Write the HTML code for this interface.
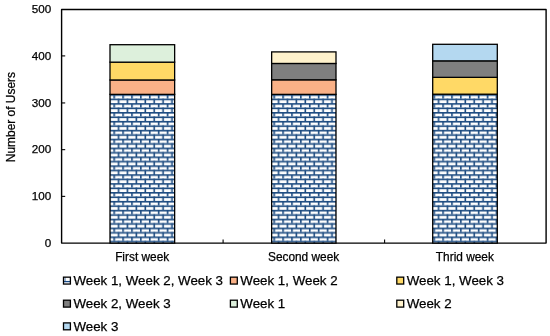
<!DOCTYPE html>
<html><head><meta charset="utf-8"><title>Number of Users</title>
<style>
html,body{margin:0;padding:0;background:#fff;}
svg{display:block;}
text{font-family:"Liberation Sans",Arial,sans-serif;fill:#000;stroke:#000;stroke-width:0.25px;}
.a{font-size:11.67px;}
.l{font-size:13.33px;}
.c{font-size:11.87px;}
.t{font-size:11.95px;}
</style></head><body>
<svg width="550" height="336" viewBox="0 0 550 336">
<defs>
<pattern id="brick" patternUnits="userSpaceOnUse" x="6.73" y="5.36" width="8.889" height="8.889">
<rect x="0" y="0" width="8.889" height="8.889" fill="#fff"/>
<rect x="0" y="0" width="8.889" height="1.6" fill="#1B4A80"/>
<rect x="0" y="4.4445" width="8.889" height="1.6" fill="#1B4A80"/>
<rect x="0" y="0" width="1.6" height="4.4445" fill="#1B4A80"/>
<rect x="4.4445" y="4.4445" width="1.6" height="4.4445" fill="#1B4A80"/>
</pattern>
</defs>
<rect x="0" y="0" width="550" height="336" fill="#fff"/>

<rect x="61.6" y="9.5" width="484.5" height="233.60" fill="#fff" stroke="#000" stroke-width="1.4" stroke-linejoin="round"/>
<line x1="61.6" y1="196.38" x2="65.2" y2="196.38" stroke="#000" stroke-width="1.1"/>
<line x1="61.6" y1="149.66" x2="65.2" y2="149.66" stroke="#000" stroke-width="1.1"/>
<line x1="61.6" y1="102.94" x2="65.2" y2="102.94" stroke="#000" stroke-width="1.1"/>
<line x1="61.6" y1="55.90" x2="65.2" y2="55.90" stroke="#000" stroke-width="1.1"/>
<line x1="223.10" y1="243.1" x2="223.10" y2="239.5" stroke="#000" stroke-width="1.1"/>
<line x1="384.60" y1="243.1" x2="384.60" y2="239.5" stroke="#000" stroke-width="1.1"/>
<rect x="110.0" y="94.37" width="64.65" height="148.73" fill="url(#brick)" stroke="#000" stroke-width="1.3"/>
<rect x="110.0" y="79.97" width="64.65" height="14.40" fill="#FAB187" stroke="#000" stroke-width="1.3"/>
<rect x="110.0" y="62.15" width="64.65" height="17.82" fill="#FFD966" stroke="#000" stroke-width="1.3"/>
<rect x="110.0" y="44.70" width="64.65" height="17.45" fill="#DDF0DC" stroke="#000" stroke-width="1.3"/>
<rect x="271.65" y="94.37" width="64.35" height="148.73" fill="url(#brick)" stroke="#000" stroke-width="1.3"/>
<rect x="271.65" y="79.80" width="64.35" height="14.57" fill="#FAB187" stroke="#000" stroke-width="1.3"/>
<rect x="271.65" y="63.46" width="64.35" height="16.34" fill="#7F7F7F" stroke="#000" stroke-width="1.3"/>
<rect x="271.65" y="51.90" width="64.35" height="11.56" fill="#FFF2CC" stroke="#000" stroke-width="1.3"/>
<rect x="432.7" y="94.20" width="64.60" height="148.90" fill="url(#brick)" stroke="#000" stroke-width="1.3"/>
<rect x="432.7" y="77.35" width="64.60" height="16.85" fill="#FFD966" stroke="#000" stroke-width="1.3"/>
<rect x="432.7" y="60.85" width="64.60" height="16.50" fill="#7F7F7F" stroke="#000" stroke-width="1.3"/>
<rect x="432.7" y="44.30" width="64.60" height="16.55" fill="#B4D8F0" stroke="#000" stroke-width="1.3"/>
<text class="a" x="51.3" y="247.00" text-anchor="end">0</text>
<text class="a" x="51.3" y="199.55" text-anchor="end">100</text>
<text class="a" x="51.3" y="153.20" text-anchor="end">200</text>
<text class="a" x="51.3" y="106.60" text-anchor="end">300</text>
<text class="a" x="51.3" y="59.60" text-anchor="end">400</text>
<text class="a" x="51.3" y="12.80" text-anchor="end">500</text>
<text class="c" x="142.15" y="260.9" text-anchor="middle">First week</text>
<text class="c" x="303.60" y="260.9" text-anchor="middle">Second week</text>
<text class="c" x="464.85" y="260.9" text-anchor="middle">Thrid week</text>
<text class="t" transform="translate(14.6,117.1) rotate(-90)" text-anchor="middle">Number of Users</text>
<rect x="63.50" y="277.15" width="6.9" height="6.9" fill="#fff"/>
<rect x="63.50" y="280.95" width="6.9" height="1.3" fill="#164A88"/>
<rect x="64.60" y="277.15" width="1.0" height="4" fill="#164A88" fill-opacity="0.7"/>
<rect x="63.50" y="277.15" width="6.9" height="6.9" fill="none" stroke="#000" stroke-width="1.3"/>
<text class="l" x="73.40" y="284.75">Week 1, Week 2, Week 3</text>
<rect x="230.40" y="277.15" width="6.9" height="6.9" fill="#FAB187" stroke="#000" stroke-width="1.3"/>
<text class="l" x="240.30" y="284.75">Week 1, Week 2</text>
<rect x="396.80" y="277.15" width="6.9" height="6.9" fill="#FFD966" stroke="#000" stroke-width="1.3"/>
<text class="l" x="406.70" y="284.75">Week 1, Week 3</text>
<rect x="63.50" y="300.20" width="6.9" height="6.9" fill="#7F7F7F" stroke="#000" stroke-width="1.3"/>
<text class="l" x="73.40" y="307.8">Week 2, Week 3</text>
<rect x="230.40" y="300.20" width="6.9" height="6.9" fill="#DDF0DC" stroke="#000" stroke-width="1.3"/>
<text class="l" x="240.30" y="307.8">Week 1</text>
<rect x="396.80" y="300.20" width="6.9" height="6.9" fill="#FFF2CC" stroke="#000" stroke-width="1.3"/>
<text class="l" x="406.70" y="307.8">Week 2</text>
<rect x="63.50" y="322.90" width="6.9" height="6.9" fill="#B4D8F0" stroke="#000" stroke-width="1.3"/>
<text class="l" x="73.40" y="330.5">Week 3</text>
</svg></body></html>
